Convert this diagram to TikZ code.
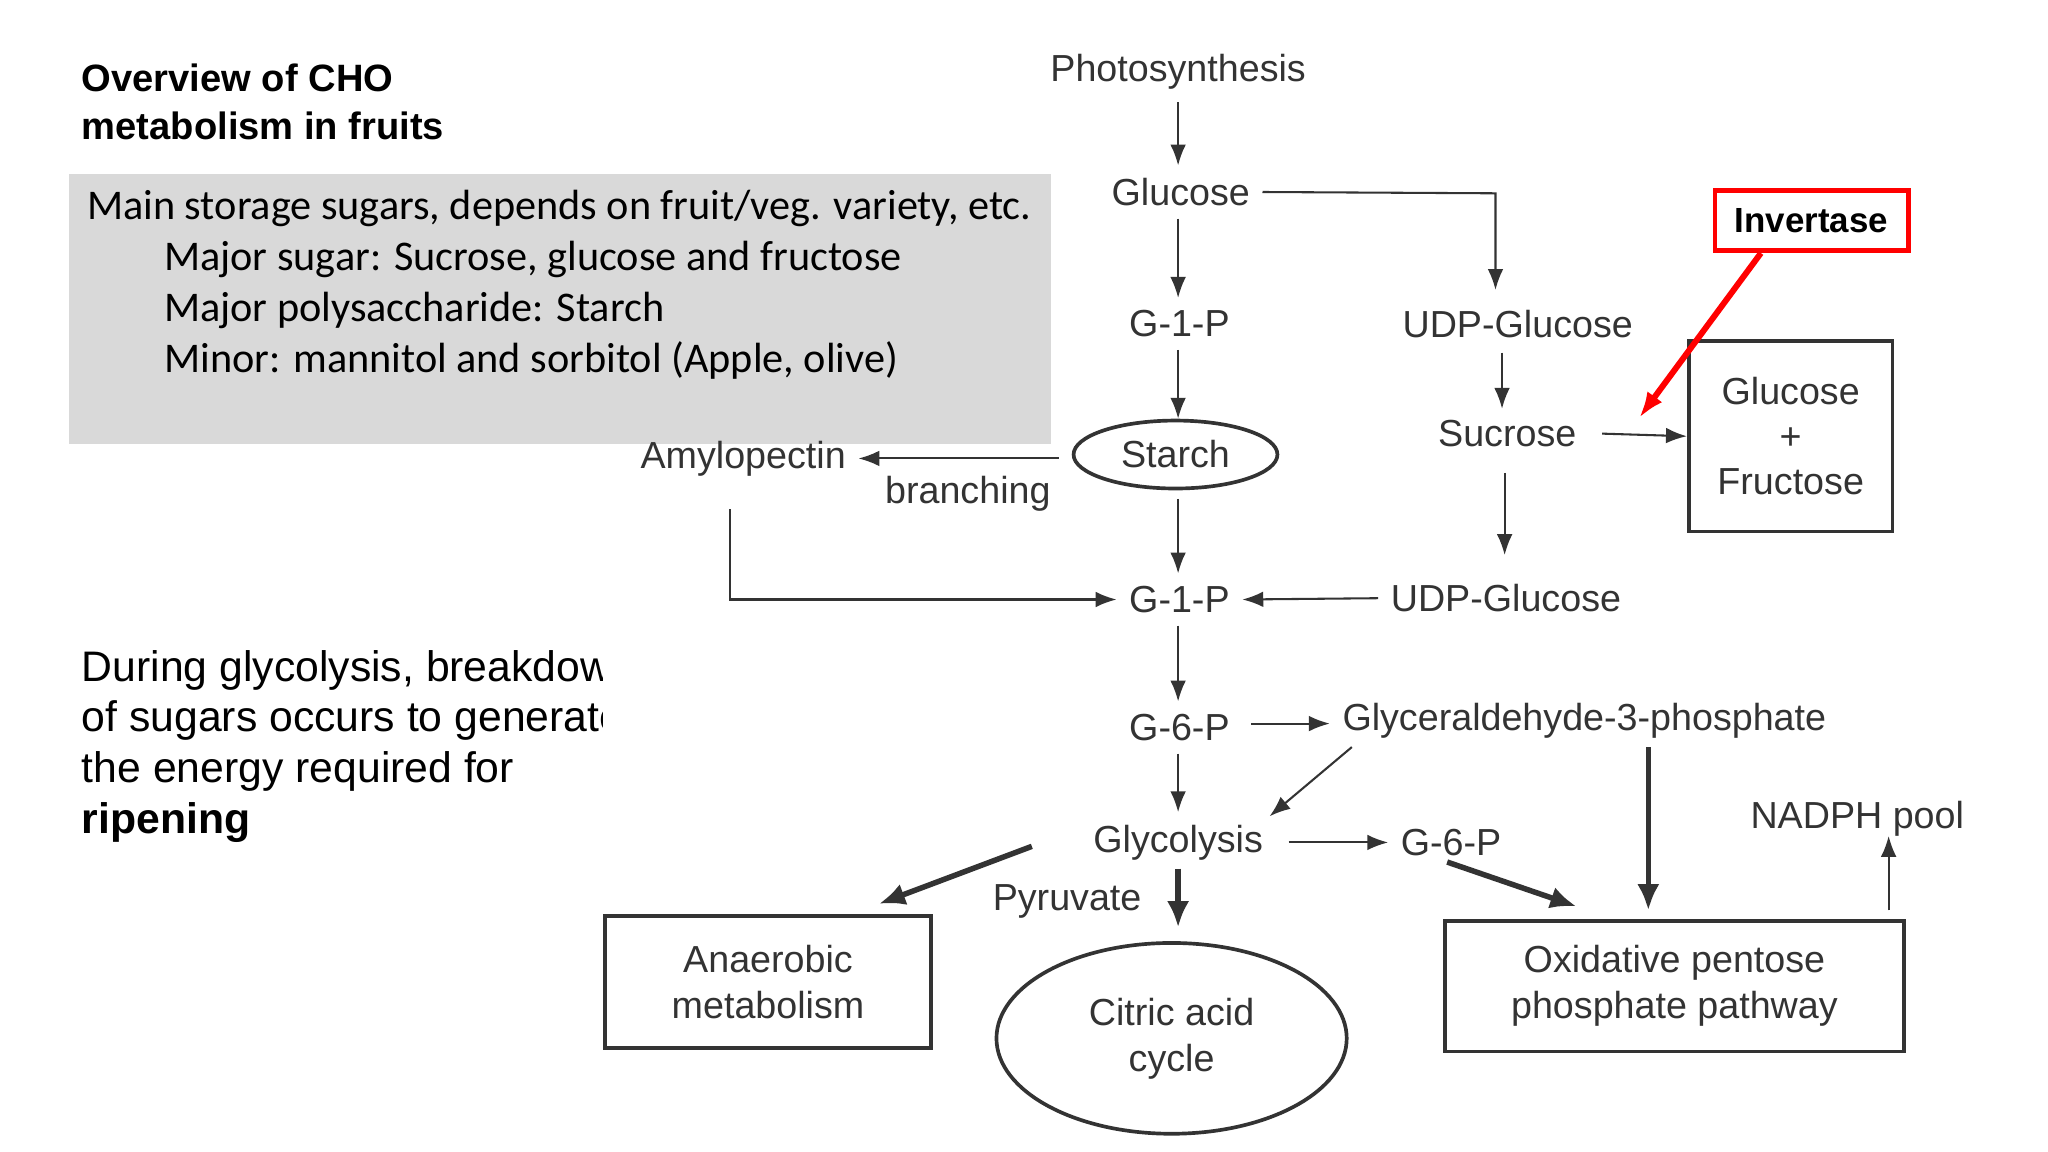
\documentclass[tikz,border=0pt]{standalone}
\usepackage{fontspec}
\setmainfont{Liberation Sans}
\newfontfamily\calfont{Carlito}
\usetikzlibrary{arrows.meta,shapes.geometric}
\definecolor{txt}{gray}{0.2}
\definecolor{boxg}{HTML}{D9D9D9}
\begin{document}
\begin{tikzpicture}[x=0.01cm,y=-0.01cm,
  lab/.style={font=\fontsize{8.2pt}{9pt}\selectfont,text=txt,inner sep=0.09cm},
  a/.style={draw=txt,line width=0.45pt,-{Latex[length=0.16cm,width=0.12cm]}},
  tk/.style={draw=txt,line width=1.2pt,-{Latex[length=0.2cm,width=0.17cm]}},
  bx/.style={draw=txt,line width=0.8pt}]
\useasboundingbox (0,0) rectangle (1568,882);
\fill[white] (0,0) rectangle (1568,882);
% title
\node[anchor=west,font=\bfseries\fontsize{8.3pt}{9.6pt}\selectfont,align=left,inner sep=0] (title) at (62,78) {Overview of CHO\\[0.03cm]metabolism in fruits};
% gray box
\fill[boxg] (53,133) rectangle (805,340);
\node[anchor=north west,font=\calfont\fontsize{9.2pt}{11.1pt}\selectfont,align=left,inner sep=0] (info) at (66,145) {Main storage sugars, depends on fruit/veg. variety, etc.\\
\hspace{0.59cm}Major sugar: Sucrose, glucose and fructose\\
\hspace{0.59cm}Major polysaccharide: Starch\\
\hspace{0.59cm}Minor: mannitol and sorbitol (Apple, olive)};
% glycolysis paragraph (clipped)
\begin{scope}
\clip (0,480) rectangle (461,660);
\node[anchor=north west,font=\fontsize{9.3pt}{11.1pt}\selectfont,align=left,inner sep=0] (para) at (62,497) {During glycolysis, breakdown\\of sugars occurs to generate\\the energy required for\\\textbf{ripening}};
\end{scope}
% diagram nodes
\node[lab] (photo) at (902,55) {Photosynthesis};
\node[lab] (glc) at (904,147) {Glucose};
\node[lab] (g1p) at (903,248) {G-1-P};
\node[lab] (udp1) at (1162,248) {UDP-Glucose};
\node[ellipse,draw=txt,line width=0.8pt,minimum width=1.56cm,minimum height=0.52cm,inner sep=0,font=\fontsize{8.2pt}{9pt}\selectfont,text=txt] (starch) at (900,348) {Starch};
\node[lab] (suc) at (1154,332) {Sucrose};
\node[bx,minimum width=1.56cm,minimum height=1.46cm,align=center,font=\fontsize{8.2pt}{9pt}\selectfont,text=txt] (gf) at (1371,334) {Glucose\\[0.03cm]+\\[0.03cm]Fructose};
\node[draw=red,line width=1pt,minimum width=1.48cm,minimum height=0.46cm,inner sep=0,font=\bfseries\fontsize{7.6pt}{9pt}\selectfont] (inv) at (1387,169) {Invertase};
\node[lab] (amy) at (569,351) {Amylopectin};
\node[lab] (br) at (741,378) {branching};
\node[lab] (g1p2) at (903,459) {G-1-P};
\node[lab] (udp2) at (1153,458) {UDP-Glucose};
\node[lab] (g6p) at (903,557) {G-6-P};
\node[lab] (gap) at (1213,552) {Glyceraldehyde-3-phosphate};
\node[lab] (glyc) at (902,645) {Glycolysis};
\node[lab] (g6p2) at (1111,645) {G-6-P};
\node[lab] (nadph) at (1422,627) {NADPH pool};
\node[lab] (pyr) at (817,690) {Pyruvate};
\node[bx,minimum width=2.49cm,minimum height=1.01cm,align=center,font=\fontsize{8.2pt}{10pt}\selectfont,text=txt] (anae) at (588,752) {Anaerobic\\metabolism};
\node[ellipse,draw=txt,line width=0.8pt,minimum width=2.68cm,minimum height=1.46cm,align=center,font=\fontsize{8.2pt}{10pt}\selectfont,text=txt] (tca) at (897,795) {Citric acid\\cycle};
\node[bx,minimum width=3.51cm,minimum height=1.0cm,align=center,font=\fontsize{8.2pt}{10pt}\selectfont,text=txt] (oppp) at (1282,755) {Oxidative pentose\\phosphate pathway};
% connectors
\draw[a] (photo.south -| 902,0) -- (glc.north -| 902,0);
\draw[a] (glc.south -| 902,0) -- (g1p.north -| 902,0);
\draw[a] (glc.east) -- (1145,148) -- (1145,222);
\draw[a] (g1p.south -| 902,0) -- (starch.north -| 902,0);
\draw[a] (1150,270) -- (1150,313);
\draw[a] (suc.east) ++(10,0) -- (gf.west);
\draw[-{Latex[length=0.2cm,width=0.14cm]},red,line width=1.3pt] (inv.south west) ++(37,0) -- (1255,320);
\draw[a] (starch.west) ++(-10,3) -- (amy.east);
\draw[a] (559,390) |- (g1p2.west);
\draw[a] (902,382) -- (g1p2.north -| 902,0);
\draw[a] (1152,362) -- (1152,425);
\draw[a] (udp2.west) -- (g1p2.east);
\draw[a] (g1p2.south -| 902,0) -- (g6p.north -| 902,0);
\draw[a] (958,554) -- (gap.west |- 0,554);
\draw[a] (g6p.south -| 902,0) -- (glyc.north -| 902,0);
\draw[a] (1035,572) -- (972,625);
\draw[a] (glyc.east) ++(10,0) -- (g6p2.west);
\draw[tk] (790,648) -- (673,692);
\draw[tk] (902,665) -- (902,710);
\draw[tk] (1108,660) -- (1207,694);
\draw[tk] (1262,572) -- (1262,697);
\draw[a] (1446,697) -- (1446,640);
\end{tikzpicture}
\end{document}
